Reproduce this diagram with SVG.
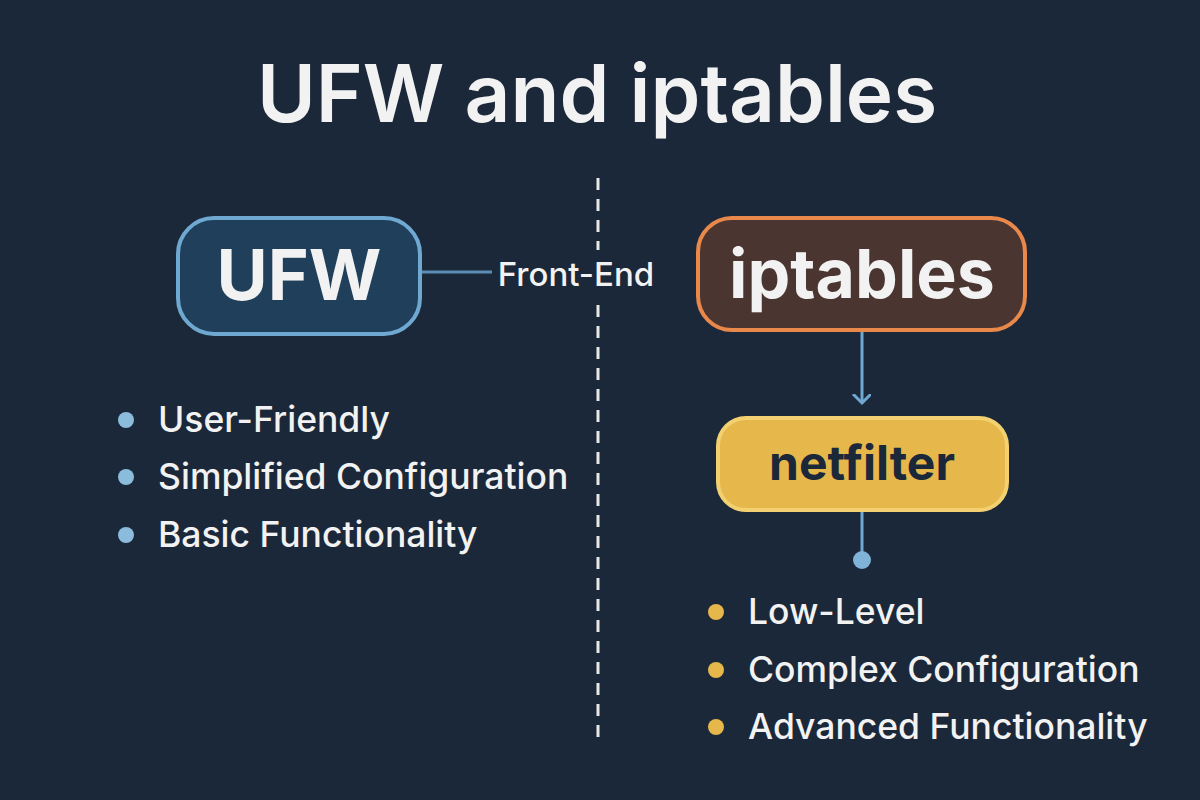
<svg xmlns="http://www.w3.org/2000/svg" width="1200" height="800" viewBox="0 0 1200 800">
<style>
text{font-family:Inter,"Open Sans","Liberation Sans",sans-serif;fill:#f2f2f2}
.b{font-size:35.5px;font-weight:500}
</style>
<defs><marker id="ah" markerWidth="20" markerHeight="20" refX="9" refY="9" orient="auto" markerUnits="userSpaceOnUse"><path d="M0,0 L9,9 L0,18" fill="none" stroke="#6fa8d0" stroke-width="3"/></marker></defs>
<rect width="1200" height="800" fill="#1b2839"/>
<text x="597" y="122" font-size="80" font-weight="600" text-anchor="middle">UFW and iptables</text>
<g id="connectors">
<line x1="598" y1="178" x2="598" y2="250" stroke="#e8e8e8" stroke-width="3" stroke-dasharray="12,9"/>
<line x1="598" y1="305" x2="598" y2="740" stroke="#e8e8e8" stroke-width="3" stroke-dasharray="12,9"/>
<line x1="420" y1="272" x2="492" y2="272" stroke="#5b8db5" stroke-width="3"/>
<line x1="862" y1="332" x2="862" y2="403" stroke="#6fa8d0" stroke-width="3" marker-end="url(#ah)"/>
<line x1="862" y1="512" x2="862" y2="552" stroke="#6fa8d0" stroke-width="3"/>
<circle cx="862" cy="560" r="9" fill="#7fb3d8"/>
<text x="576" y="286" font-size="33" font-weight="500" text-anchor="middle">Front-End</text>
</g>
<g id="ufw"><rect x="178" y="218" width="242" height="116" rx="36" fill="#1f3f5a" stroke="#6fa8d0" stroke-width="4"/>
<text x="299" y="300" font-size="70" font-weight="700" text-anchor="middle">UFW</text></g>
<g id="iptables"><rect x="698" y="218" width="327" height="112" rx="34" fill="#4a3530" stroke="#e8884a" stroke-width="4"/>
<text x="862" y="298" font-size="68" font-weight="700" text-anchor="middle">iptables</text></g>
<g id="netfilter"><rect x="718" y="418" width="289" height="92" rx="28" fill="#e6b84c" stroke="#f3d070" stroke-width="4"/>
<text x="862" y="480" font-size="48" font-weight="700" text-anchor="middle" style="fill:#1b2839">netfilter</text></g>
<g id="ufw-list" fill="#8bbcdc">
<circle cx="126" cy="420" r="8"/><circle cx="126" cy="477" r="8"/><circle cx="126" cy="535" r="8"/>
<text class="b" x="158" y="432">User-Friendly</text>
<text class="b" x="158" y="489">Simplified Configuration</text>
<text class="b" x="158" y="547">Basic Functionality</text></g>
<g id="ipt-list" fill="#e6b84c">
<circle cx="716" cy="612" r="8"/><circle cx="716" cy="670" r="8"/><circle cx="716" cy="727" r="8"/>
<text class="b" x="748" y="624">Low-Level</text>
<text class="b" x="748" y="682">Complex Configuration</text>
<text class="b" x="748" y="739">Advanced Functionality</text></g>
</svg>
